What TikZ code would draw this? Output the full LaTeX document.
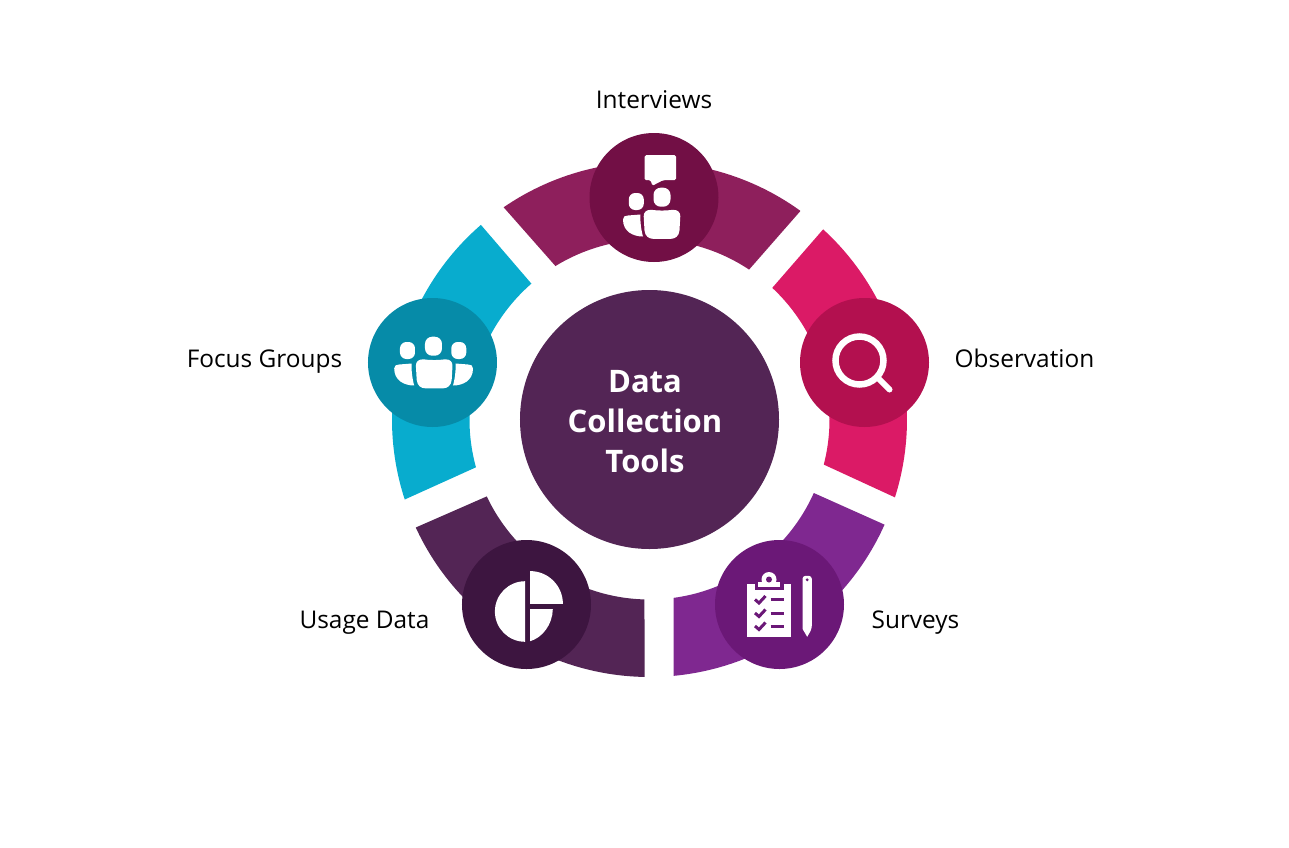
\documentclass[tikz,border=0pt]{standalone}
\usepackage{fontspec}
\setmainfont{Open Sans}
\usepackage{xcolor}
\usetikzlibrary{calc}
\usetikzlibrary{positioning}

\definecolor{topring}{HTML}{8E1F5C}
\definecolor{topdisc}{HTML}{720F45}
\definecolor{obsring}{HTML}{DB1A66}
\definecolor{obsdisc}{HTML}{B3104F}
\definecolor{surring}{HTML}{7F2890}
\definecolor{surdisc}{HTML}{6B1877}
\definecolor{useing}{HTML}{532555}
\definecolor{usedisc}{HTML}{3D1540}
\definecolor{focring}{HTML}{08ACCE}
\definecolor{focdisc}{HTML}{068BA8}

% colour, outer from, outer to, inner to, inner from
\newcommand{\ringseg}[5]{\fill[#1] (#2:257.5pt) arc[start angle=#2,end angle=#3,radius=257.5pt] -- (#4:180pt) arc[start angle=#4,end angle=#5,radius=180pt] -- cycle;}
\newcommand{\midbody}[1]{\fill[white,#1] (-18.3,8) .. controls (-18.3,12) and (-16,14.5) .. (-11,14.5) .. controls (-4,13.5) and (4,13.5) .. (11,14.5) .. controls (16,14.5) and (18.3,12) .. (18.3,8) -- (17.5,-6) .. controls (17,-12) and (13,-14.5) .. (9,-14.5) -- (-9,-14.5) .. controls (-13,-14.5) and (-17,-12) .. (-17.5,-6) -- cycle;}
\newcommand{\sidebody}[1]{\fill[white,#1] (-10,6) .. controls (-10,9) and (-8,10) .. (-5,10) -- (7.5,11) .. controls (7,5) and (8,-4) .. (10,-11) .. controls (0,-11) and (-10,-6) .. (-10,6) -- cycle;}
% centre x, centre y, half width, half height
\newcommand{\headshape}[4]{\fill[white,rounded corners=#3*0.85pt] (#1-#3,#2-#4) rectangle (#1+#3,#2+#4);}

\begin{document}
\begin{tikzpicture}[x=1pt,y=1pt,on grid,font=\fontsize{24.4}{24.4}\selectfont]
 \tikzstyle{disc}=[circle, inner sep=0pt, minimum size=129pt]
 \tikzstyle{lab}=[inner sep=0pt, text height=18pt, text depth=6pt]
 \tikzstyle{hub}=[inner sep=0pt, align=center, text=white, font=\fontsize{31}{40}\selectfont\bfseries]
 \useasboundingbox (-649.5,419.5) rectangle (639.5,-427.5);

 % ring
 \ringseg{topring}{124.5}{54.1}{56.4}{121.5}
 \ringseg{obsring}{47.6}{-17.6}{-14.5}{47}
 \ringseg{surring}{-24.1}{-84.6}{-82.3}{-24.1}
 \ringseg{useing}{-91.1}{-155.2}{-154.7}{-91.6}
 \ringseg{focring}{198.1}{130.9}{131}{195.4}

 % hub and discs
 \node[circle, inner sep=0pt, minimum size=259pt, fill=useing] (Data) at (0,0) {};
 \node[hub] (DataLab) [below left=2pt and 4.5pt of Data] {Data\\Collection\\Tools};
 \node[disc, fill=topdisc] (Interviews) [above right=222pt and 4.5pt of Data] {};
 \node[disc, fill=obsdisc] (Observation) [above right=57pt and 215pt of Data] {};
 \node[disc, fill=surdisc] (Surveys) [below right=185pt and 130pt of Data] {};
 \node[disc, fill=usedisc] (Usage) [below left=185pt and 123pt of Data] {};
 \node[disc, fill=focdisc] (Focus) [above left=57pt and 217pt of Data] {};

 % labels
 \node[lab] (InterviewsLab) [above=95pt of Interviews] {Interviews};
 \node[lab] (ObservationLab) [above right=1pt and 160pt of Observation] {Observation};
 \node[lab] (SurveysLab) [below right=18pt and 136pt of Surveys] {Surveys};
 \node[lab] (UsageLab) [below left=18pt and 162pt of Usage] {Usage Data};
 \node[lab] (FocusLab) [above left=1pt and 168pt of Focus] {Focus Groups};

 % interviews icon
 \begin{scope}[shift={(Interviews.center)}]
  \fill[white,rounded corners=1.5pt] (-9.3,42.3) -- (22,42.3) -- (22,17.3) -- (9,17.3) -- (-1.7,11.7) -- (-3.3,17.3) -- (-9.3,17.3) -- cycle;
  \headshape{8}{0.3}{8.5}{9.5}
  \headshape{-17.7}{-4}{7.5}{8.5}
  \midbody{shift={(8,-26.8)}}
  \sidebody{shift={(-21,-28)}}
 \end{scope}

 % focus groups icon
 \begin{scope}[shift={(Focus.center)}]
  \headshape{1}{16.3}{8.5}{9.5}
  \headshape{-25}{12}{7.5}{8.5}
  \headshape{26.3}{12}{7.5}{8.5}
  \midbody{shift={(1.7,-11.3)}}
  \sidebody{shift={(-28.3,-12)}}
  \sidebody{shift={(30.5,-12)},xscale=-1}
 \end{scope}

 % observation icon
 \begin{scope}[shift={(Observation.center)}]
  \draw[white,line width=6.5pt] (-5,2) circle (24pt);
  \draw[white,line width=6pt,line cap=round] (13,-15) -- (25,-27);
 \end{scope}

 % surveys icon
 \begin{scope}[shift={(Surveys.center)}]
  \fill[white] (-32.3,21) rectangle (11.3,-32.3);
  \fill[surdisc] (-25,21.5) rectangle (4,14.5);
  \fill[white] (-21.7,17.5) rectangle (0.7,23);
  \fill[white] (-10.5,25) circle (7.5pt);
  \fill[white] (-18,22) rectangle (-3,19);
  \fill[surdisc] (-10.5,25) circle (3pt);
  \foreach \ty in {5,-8.5,-21.5} {
   \draw[surdisc,line width=3pt] (-24.5,\ty) -- (-20.5,\ty-3.5) -- (-14,\ty+3.5);
   \draw[surdisc,line width=3pt] (-9,\ty) -- (4,\ty);
  }
  \fill[white,rounded corners=3pt] (23,-24.3) -- (23,28.7) -- (32.3,28.7) -- (32.3,-24.3) [sharp corners] -- (27.7,-32.3) -- cycle;
  \fill[surdisc] (27.7,24.7) circle (1.6pt);
 \end{scope}

 % usage data icon
 \begin{scope}[shift={(Usage.center)}]
  \fill[white] (-1.3,-37.3) arc[start angle=270,end angle=90,radius=30.3pt] -- cycle;
  \fill[white] (3.7,33.4) arc[start angle=90,end angle=0,radius=32.7pt] -- (3.7,0.7) -- cycle;
  \fill[white] (3.7,-4.7) -- (26.3,-4.7) .. controls (26,-20) and (16,-33) .. (3.7,-36.7) -- cycle;
 \end{scope}
\end{tikzpicture}
\end{document}
